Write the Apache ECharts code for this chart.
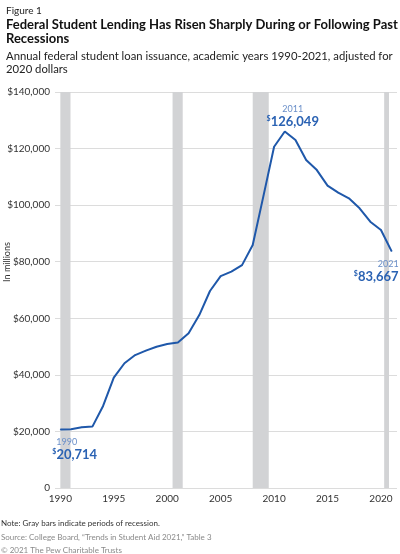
<!DOCTYPE html>
<html><head><meta charset="utf-8">
<script src="https://cdn.jsdelivr.net/npm/echarts@6/dist/echarts.min.js"></script>
<style>html,body{margin:0;padding:0;background:#fff}#c{width:400px;height:554px}</style>
</head><body><div id="c"></div>
<script>
const years = [1990,1991,1992,1993,1994,1995,1996,1997,1998,1999,2000,2001,2002,2003,2004,2005,2006,2007,2008,2009,2010,2011,2012,2013,2014,2015,2016,2017,2018,2019,2020,2021];
const loans = [20714,20800,21450,21700,29000,39000,44100,47000,48550,49950,50900,51400,54700,61150,69650,74900,76500,78800,85900,103200,120650,126049,123000,115950,112400,106900,104400,102400,98900,94150,91200,83667];
const recessions = [[1990.0,1990.95],[2000.5,2001.45],[2008.0,2009.5],[2020.3,2020.75]];
const xTickLabels = [1990,1995,2000,2005,2010,2015,2020];
const annotatedYears = [1990,2011,2021];

const FONT = 'Lato, "Noto Sans", sans-serif';
const fmtMoney = v => '$' + v.toLocaleString('en-US');

const labelCfg = {
  1990: {position:'bottom', distance:7, align:'left', offset:[-8,0], yearPad:[0,0,0,4]},
  2011: {position:'top', distance:2, align:'center', offset:[8,0], yearPad:[0,0,0,0]},
  2021: {position:'bottom', distance:7, align:'right', offset:[7,0], yearPad:[0,0,0,0]}
};

const data = years.map((y,i) => {
  const item = {value:[y, loans[i]]};
  if (annotatedYears.includes(y)) {
    const c = labelCfg[y];
    item.label = {
      show: true, position: c.position, distance: c.distance, offset: c.offset, align: c.align,
      formatter: '{y|' + y + '}\n{s|$}{v|' + loans[i].toLocaleString('en-US') + '}',
      rich: {
        y: {fontSize: 9, color: '#6a8fc9', fontFamily: FONT, lineHeight: 11, padding: c.yearPad, align: c.align},
        s: {fontSize: 7, color: '#2a62b3', fontFamily: FONT, fontWeight: 'bold', lineHeight: 7, verticalAlign: 'top'},
        v: {fontSize: 13, color: '#2a62b3', fontFamily: FONT, fontWeight: 'bold', lineHeight: 14}
      }
    };
  }
  return item;
});

const chart = echarts.init(document.getElementById('c'), null, {renderer:'canvas'});
chart.setOption({
  backgroundColor: '#fff',
  animation: false,
  title: [
    {text: 'Figure 1', left: 1, top: 1, textStyle: {fontSize: 10, fontWeight: 'normal', color: '#222', fontFamily: FONT}},
    {text: 'Federal Student Lending Has Risen Sharply During or Following Past\nRecessions', left: 1, top: 13,
     textStyle: {fontSize: 13, fontWeight: 'bold', color: '#111', fontFamily: FONT, lineHeight: 14}},
    {text: 'Annual federal student loan issuance, academic years 1990-2021, adjusted for\n2020 dollars', left: 1, top: 45,
     textStyle: {fontSize: 11.3, fontWeight: 'normal', color: '#222', fontFamily: FONT, lineHeight: 13}}
  ],
  graphic: [
    {type: 'text', x: 7, y: 262, rotation: Math.PI/2,
     style: {text: 'In millions', fontSize: 9, fill: '#333', fontFamily: FONT, textAlign: 'center', textVerticalAlign: 'middle'}},
    {type: 'text', left: 1, top: 519, style: {text: 'Note: Gray bars indicate periods of recession.', fontSize: 8, fill: '#333', fontFamily: FONT}},
    {type: 'text', left: 1, top: 533, style: {text: 'Source: College Board, \u201cTrends in Student Aid 2021,\u201d Table 3', fontSize: 8, fill: '#8a8a8a', fontFamily: FONT}},
    {type: 'text', left: 1, top: 546, style: {text: '\u00a9 2021 The Pew Charitable Trusts', fontSize: 8, fill: '#8a8a8a', fontFamily: FONT}}
  ],
  grid: {left: 55, right: 3, top: 92, bottom: 66, containLabel: false},
  xAxis: {
    type: 'value', min: 1989.5, max: 2021.5,
    axisLine: {show: false}, axisTick: {show: false}, splitLine: {show: false},
    axisLabel: {customValues: xTickLabels, formatter: v => String(v), fontSize: 10, color: '#333', fontFamily: FONT, margin: 6}
  },
  yAxis: {
    type: 'value', min: 0, max: 140000, interval: 20000,
    axisLine: {show: false}, axisTick: {show: false},
    splitLine: {lineStyle: {color: '#dcdcdc', width: 1}},
    axisLabel: {formatter: v => v === 0 ? '0' : fmtMoney(v), fontSize: 10, color: '#333', fontFamily: FONT, margin: 5}
  },
  series: [{
    type: 'line', data: data, symbol: 'circle', symbolSize: 1, showSymbol: true, showAllSymbol: true, smooth: false,
    itemStyle: {color: '#1f58aa'},
    lineStyle: {color: '#1f58aa', width: 2},
    z: 3,
    markArea: {
      silent: true,
      itemStyle: {color: '#d2d3d5', opacity: 1},
      data: recessions.map(r => [{xAxis: r[0], yAxis: 0}, {xAxis: r[1], yAxis: 140000}])
    }
  }]
});
</script></body></html>
